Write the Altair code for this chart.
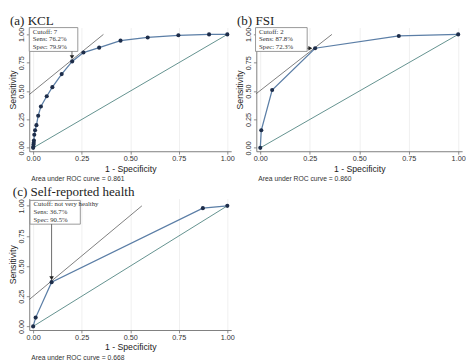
import altair as alt
import pandas as pd

# ---------------- data ----------------
kcl_fpr = [0, 0.001, 0.002, 0.003, 0.004, 0.006, 0.010, 0.017, 0.026, 0.040, 0.070,
           0.099, 0.147, 0.201, 0.259, 0.340, 0.450, 0.590, 0.748, 0.906, 1.0]
kcl_tpr = [0, 0.010, 0.030, 0.045, 0.065, 0.115, 0.155, 0.200, 0.283, 0.365, 0.455,
           0.535, 0.650, 0.762, 0.840, 0.883, 0.945, 0.973, 0.992, 1.0, 1.0]
fsi_fpr = [0, 0.005, 0.060, 0.277, 0.700, 1.0]
fsi_tpr = [0, 0.155, 0.510, 0.878, 0.986, 1.0]
srh_fpr = [0, 0.013, 0.095, 0.874, 1.0]
srh_tpr = [0, 0.073, 0.367, 0.981, 1.0]

titles = ["(a) KCL", "(b) FSI", "(c) Self-reported health"]
auc_notes = ["Area under ROC curve = 0.861",
             "Area under ROC curve = 0.860",
             "Area under ROC curve = 0.668"]
cutoff_lines = [["Cutoff: 7", "Sens: 76.2%", "Spec: 79.9%"],
                ["Cutoff: 2", "Sens: 87.8%", "Spec: 72.3%"],
                ["Cutoff: not very healthy", "Sens: 36.7%", "Spec: 90.5%"]]
cutoff_text_y = [[1.024, 0.955, 0.886], [1.024, 0.955, 0.886], [1.012, 0.946, 0.880]]
tangent_x = [[-0.02, 0.362], [-0.021, 0.362], [-0.019, 0.56]]
tangent_y = [[0.47, 1.0], [0.477, 1.0], [0.224, 1.0]]
box_x = [[-0.02, 0.23], [-0.024, 0.237], [-0.016, 0.243]]
box_y = [[0.85, 1.06], [0.85, 1.06], [0.848, 1.045]]
arrow_x = [[0.2, 0.2], [0.237, 0.253], [0.095, 0.095]]
arrow_y = [[0.85, 0.80], [0.878, 0.878], [0.848, 0.40]]
arrow_shape = ["triangle-down", "triangle-right", "triangle-down"]
tick_values = [0, 0.25, 0.5, 0.75, 1.0]

SERIF = "Liberation Serif"
SANS = "Liberation Sans"
LINE_C = "#5b7ea6"
PT_C = "#1d2d4a"
DIAG_C = "#5f8f8c"
TAN_C = "#5a5a5a"


def panel(i, fpr, tpr, W, H, title_dx):
    xs = alt.Scale(domain=[-0.02, 1.02], nice=False, zero=False)
    ys = alt.Scale(domain=[-0.03, 1.06], nice=False, zero=False)
    xaxis = alt.Axis(values=tick_values, format=".2f", title="1 - Specificity",
                     grid=True, gridColor="#ececec", gridWidth=0.8,
                     labelFontSize=7.5, titleFontSize=9, tickSize=3,
                     labelPadding=1, titlePadding=2)
    yaxis = alt.Axis(values=tick_values, format=".2f", title="Sensitivity",
                     grid=False, labelAngle=270, labelAlign="center",
                     labelBaseline="bottom", labelFontSize=7.5, titleFontSize=9,
                     tickSize=3, labelPadding=1, titlePadding=0)
    X = alt.X("x:Q", scale=xs, axis=xaxis)
    Y = alt.Y("y:Q", scale=ys, axis=yaxis)

    diag = alt.Chart(pd.DataFrame({"x": [0, 1], "y": [0, 1]})).mark_line(
        color=DIAG_C, strokeWidth=1).encode(x=X, y=Y)
    tan = alt.Chart(pd.DataFrame({"x": tangent_x[i], "y": tangent_y[i]})).mark_line(
        color=TAN_C, strokeWidth=0.8, clip=False).encode(x=X, y=Y)
    roc = pd.DataFrame({"x": fpr, "y": tpr, "o": list(range(len(fpr)))})
    roc_line = alt.Chart(roc).mark_line(color=LINE_C, strokeWidth=1.3).encode(
        x=X, y=Y, order="o:Q")
    roc_pts = alt.Chart(roc).mark_point(filled=True, color=PT_C, size=18,
                                        opacity=1).encode(x=X, y=Y)
    box = alt.Chart(pd.DataFrame({"x": [box_x[i][0]], "x2": [box_x[i][1]],
                                  "y": [box_y[i][0]], "y2": [box_y[i][1]]})).mark_rect(
        fill="white", stroke="#8a8a8a", strokeWidth=0.9, clip=False).encode(
        x=X, x2="x2", y=Y, y2="y2")
    txt = alt.Chart(pd.DataFrame({"x": [box_x[i][0] + 0.018] * 3,
                                  "y": cutoff_text_y[i],
                                  "t": cutoff_lines[i]})).mark_text(
        align="left", baseline="middle", font=SERIF, fontSize=7,
        color="#333333", clip=False).encode(x=X, y=Y, text="t:N")
    arr = alt.Chart(pd.DataFrame({"x": [arrow_x[i][0]], "x2": [arrow_x[i][1]],
                                  "y": [arrow_y[i][0]], "y2": [arrow_y[i][1]]})).mark_rule(
        color="#444444", strokeWidth=0.8).encode(x=X, x2="x2", y=Y, y2="y2")
    head = alt.Chart(pd.DataFrame({"x": [arrow_x[i][1]], "y": [arrow_y[i][1]]})).mark_point(
        shape=arrow_shape[i], filled=True, color="#222222", size=22, opacity=1).encode(
        x=X, y=Y)
    note = alt.Chart(pd.DataFrame({"t": [auc_notes[i]]})).mark_text(
        align="left", baseline="middle", font=SANS, fontSize=7, color="#333333"
    ).encode(text="t:N", x=alt.value(2), y=alt.value(H + 29))

    return alt.layer(diag, tan, roc_line, roc_pts, box, txt, arr, head, note).properties(
        width=W, height=H,
        title=alt.TitleParams(titles[i], anchor="start", frame="group",
                              font=SERIF, fontSize=13.5, fontWeight="normal",
                              color="#222222", dx=title_dx, offset=0))


pa = panel(0, kcl_fpr, kcl_tpr, 209, 128, -20)
pb = panel(1, fsi_fpr, fsi_tpr, 213, 128, -20)
pc = panel(2, srh_fpr, srh_tpr, 209, 136, -17)

chart = alt.vconcat(
    alt.hconcat(pa, pb, spacing=0),
    pc,
    spacing=3,
).properties(padding=0).configure_view(stroke=None).configure_axis(
    domainColor="#6e6e6e", tickColor="#6e6e6e", labelColor="#333333",
    titleColor="#222222", labelFont=SANS, titleFont=SANS, titleFontWeight="normal",
    domainWidth=0.9, tickWidth=0.8
)

chart.save("out.html", embed_options={"renderer": "svg", "actions": False})
